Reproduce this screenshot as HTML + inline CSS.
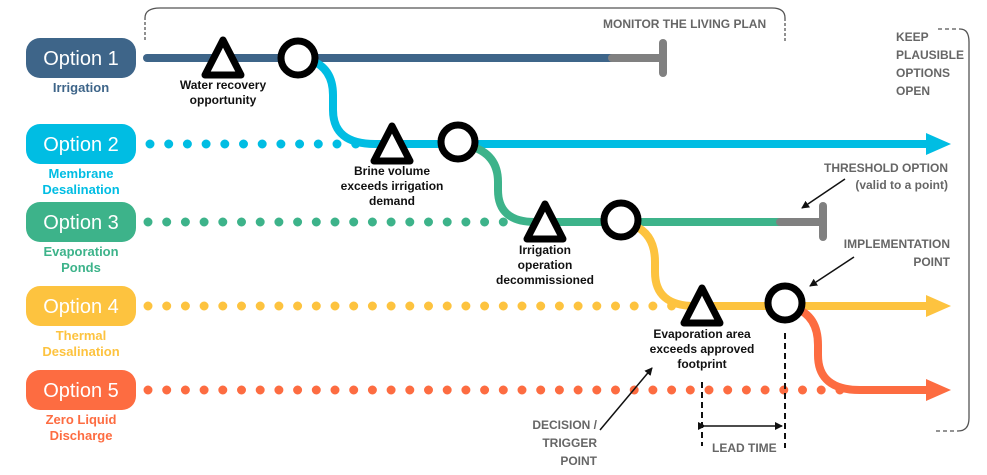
<!DOCTYPE html>
<html><head><meta charset="utf-8"><style>
body{margin:0;background:#fff}
svg{display:block;font-family:"Liberation Sans",sans-serif}
.b{font-weight:bold;font-size:12px;fill:#111;text-anchor:middle}
.g{font-weight:bold;font-size:12px;fill:#666}
.p{font-size:20px;fill:#fff;text-anchor:middle}
.s{font-weight:bold;font-size:13px;text-anchor:middle}
</style></head><body>
<svg width="987" height="475" viewBox="0 0 987 475">
<defs>
<marker id="ah" markerWidth="8" markerHeight="8" refX="7" refY="4" orient="auto" markerUnits="userSpaceOnUse"><path d="M0,0 L8,4 L0,8 z" fill="#111"/></marker>
</defs>
<path d="M145,40 L145,18" stroke="#555" stroke-width="1.3" stroke-dasharray="3,2" fill="none"/>
<path d="M145,18 Q145,8 160,8 L772,8 Q785,8 785,18" stroke="#555" stroke-width="1.3" fill="none"/>
<path d="M785,18 L785,42" stroke="#555" stroke-width="1.3" stroke-dasharray="3,2" fill="none"/>
<text class="g" x="603" y="28">MONITOR THE LIVING PLAN</text>
<path d="M938,29 L960,29" stroke="#555" stroke-width="1.3" stroke-dasharray="4,3"/>
<path d="M960,29 Q969,29 969,42 L969,418 Q969,431 958,431" stroke="#555" stroke-width="1.3" fill="none"/>
<path d="M936,431 L958,431" stroke="#555" stroke-width="1.3" stroke-dasharray="4,3"/>
<text class="g" x="896" y="41">KEEP</text>
<text class="g" x="896" y="59">PLAUSIBLE</text>
<text class="g" x="896" y="77">OPTIONS</text>
<text class="g" x="896" y="95">OPEN</text>

<rect x="26" y="38" width="110" height="40" rx="14" fill="#3e6589"/><text class="p" x="81" y="65">Option 1</text>
<text class="s" x="81" y="92" fill="#3e6589">Irrigation</text>
<rect x="26" y="124" width="110" height="40" rx="14" fill="#00bde3"/><text class="p" x="81" y="151">Option 2</text>
<text class="s" x="81" y="178" fill="#00bde3">Membrane</text><text class="s" x="81" y="194" fill="#00bde3">Desalination</text>
<rect x="26" y="202" width="110" height="40" rx="14" fill="#3db38a"/><text class="p" x="81" y="229">Option 3</text>
<text class="s" x="81" y="256" fill="#3db38a">Evaporation</text><text class="s" x="81" y="272" fill="#3db38a">Ponds</text>
<rect x="26" y="286" width="110" height="40" rx="14" fill="#fdc33f"/><text class="p" x="81" y="313">Option 4</text>
<text class="s" x="81" y="340" fill="#fdc33f">Thermal</text><text class="s" x="81" y="356" fill="#fdc33f">Desalination</text>
<rect x="26" y="370" width="110" height="40" rx="14" fill="#fd6c41"/><text class="p" x="81" y="397">Option 5</text>
<text class="s" x="81" y="424" fill="#fd6c41">Zero Liquid</text><text class="s" x="81" y="440" fill="#fd6c41">Discharge</text>

<g fill="none" stroke-linecap="round" stroke-width="8">
<line x1="150" y1="144" x2="360" y2="144" stroke="#00bde3" stroke-dasharray="0,18.7" stroke-width="9"/>
<line x1="148" y1="222" x2="508" y2="222" stroke="#3db38a" stroke-dasharray="0,18.7" stroke-width="9"/>
<line x1="148" y1="306" x2="678" y2="306" stroke="#fdc33f" stroke-dasharray="0,18.7" stroke-width="9"/>
<line x1="148" y1="390" x2="845" y2="390" stroke="#fd6c41" stroke-dasharray="0,18.7" stroke-width="9"/>
<line x1="147" y1="58" x2="612" y2="58" stroke="#3e6589"/>
<line x1="612" y1="58" x2="660" y2="58" stroke="#808080"/>
<line x1="663" y1="43" x2="663" y2="73" stroke="#808080"/>
<path d="M310,60 Q333,68 333,95 L333,110 Q333,144 375,144 L930,144" stroke="#00bde3"/>
<path d="M470,146 Q498,154 498,182 L498,190 Q498,222 535,222 L780,222" stroke="#3db38a"/>
<line x1="780" y1="222" x2="820" y2="222" stroke="#808080"/>
<line x1="823" y1="206" x2="823" y2="237" stroke="#808080"/>
<path d="M630,224 Q655,232 655,262 L655,272 Q655,306 695,306 L930,306" stroke="#fdc33f"/>
<path d="M795,308 Q818,316 818,345 L818,355 Q818,390 860,390 L930,390" stroke="#fd6c41"/>
</g>
<path d="M926,133 L951,144 L926,155 z" fill="#00bde3"/>
<path d="M926,295 L951,306 L926,317 z" fill="#fdc33f"/>
<path d="M926,379 L951,390 L926,401 z" fill="#fd6c41"/>

<g fill="#fff" stroke="#000" stroke-width="7" stroke-linejoin="round">
<path d="M223,40 L241,75 L205,75 z"/><circle cx="298" cy="58" r="17"/>
<path d="M392,126 L410,161 L374,161 z"/><circle cx="458" cy="142" r="17"/>
<path d="M545,204 L563,239 L527,239 z"/><circle cx="621" cy="220" r="17"/>
<path d="M702,288 L720,323 L684,323 z"/><circle cx="785" cy="303" r="17"/>
</g>

<text class="b" x="223" y="89">Water recovery</text><text class="b" x="223" y="104">opportunity</text>
<text class="b" x="392" y="175">Brine volume</text><text class="b" x="392" y="190">exceeds irrigation</text><text class="b" x="392" y="205">demand</text>
<text class="b" x="545" y="254">Irrigation</text><text class="b" x="545" y="269">operation</text><text class="b" x="545" y="284">decommissioned</text>
<text class="b" x="702" y="338">Evaporation area</text><text class="b" x="702" y="353">exceeds approved</text><text class="b" x="702" y="368">footprint</text>

<text class="g" x="948" y="172" text-anchor="end">THRESHOLD OPTION</text>
<text class="g" x="948" y="189" text-anchor="end">(valid to a point)</text>
<line x1="845" y1="179" x2="802" y2="208" stroke="#111" stroke-width="1.5" marker-end="url(#ah)"/>
<text class="g" x="950" y="248" text-anchor="end">IMPLEMENTATION</text>
<text class="g" x="950" y="266" text-anchor="end">POINT</text>
<line x1="854" y1="257" x2="810" y2="286" stroke="#111" stroke-width="1.5" marker-end="url(#ah)"/>
<text class="g" x="597" y="429" text-anchor="end">DECISION /</text>
<text class="g" x="597" y="447" text-anchor="end">TRIGGER</text>
<text class="g" x="597" y="465" text-anchor="end">POINT</text>
<line x1="600" y1="430" x2="652" y2="368" stroke="#111" stroke-width="1.5" marker-end="url(#ah)"/>

<line x1="702" y1="382" x2="702" y2="446" stroke="#111" stroke-width="2" stroke-dasharray="6,4"/>
<line x1="785" y1="333" x2="785" y2="448" stroke="#111" stroke-width="2" stroke-dasharray="6,4"/>
<line x1="705" y1="426" x2="782" y2="426" stroke="#111" stroke-width="1.5" marker-end="url(#ah)" marker-start="url(#ah)"/>
<text class="g" x="712" y="452">LEAD TIME</text>
</svg>
</body></html>
